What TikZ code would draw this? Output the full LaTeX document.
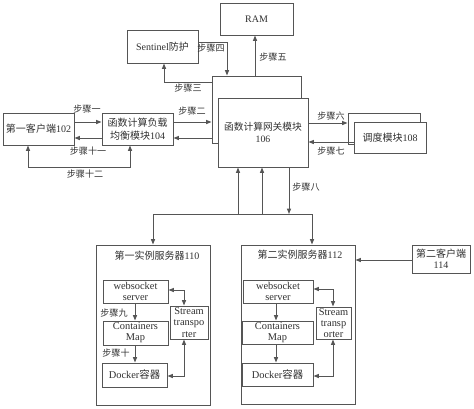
\documentclass[tikz,border=0pt]{standalone}
\usepackage{fontspec}
\setmainfont{Liberation Serif}
\newfontfamily\cjk{Noto Sans CJK SC}
\usetikzlibrary{arrows.meta}
\definecolor{linec}{HTML}{555555}
\definecolor{textc}{HTML}{303030}
\newcommand\z[1]{{\cjk #1}}
\newcommand\bx[7][]{\node[box,#1,minimum width={(#5-#3)*0.75pt},minimum height={(#6-#4)*0.75pt}] (#2) at ({(#3+#5)/2},{(#4+#6)/2}) {#7};}
\tikzset{
  box/.style={draw=linec, line width=0.75pt, inner sep=0pt, align=center, text=textc, font=\fontsize{7.5}{9}\selectfont},
  lat/.style={font=\fontsize{7.8}{8.4}\selectfont},
  arr/.style={draw=linec, line width=0.75pt, -{Triangle[length=4pt,width=3pt]}},
  dbl/.style={draw=linec, line width=0.75pt, {Triangle[length=4pt,width=3pt]}-{Triangle[length=4pt,width=3pt]}},
  lab/.style={font=\cjk\fontsize{6.8}{8}\selectfont, text=textc, inner sep=0pt},
}
\begin{document}
\begin{tikzpicture}[x=0.75pt,y=-0.75pt]
\useasboundingbox (0,0) rectangle (474,408);
% top boxes
\bx{ram}{220}{3}{293}{35}{RAM}
\bx{sent}{127}{30}{198}{63}{Sentinel\z{防护}}
\bx{gwback}{212}{76}{301}{143}{}
\bx[fill=white,font=\fontsize{7.3}{8.6}\selectfont]{gw}{218}{98}{308}{167}{\z{函数计算网关模块}\\106}
\bx{schback}{348}{113}{420}{144}{}
\bx[fill=white]{sch}{354}{122}{426}{153}{\z{调度模块}108}
\bx{cA}{3}{113}{74}{145}{\z{第一客户端}102}
\bx[font=\fontsize{7.5}{9.3}\selectfont]{lb}{102}{113}{173}{145}{\z{函数计算负载}\\\z{均衡模块}104}
\bx[font=\fontsize{7.5}{8.6}\selectfont]{cB}{412}{245}{470}{273}{\z{第二客户端}\\114}
% servers
\bx{sA}{96}{245}{210}{405}{}
\node[box,draw=none] (sAt) at (157,256) {\z{第一实例服务器}110};
\bx[lat]{wsA}{103}{280}{168}{303}{websocket\\server}
\bx[lat]{stA}{170}{306}{208}{339}{Stream\\transpo\\rter}
\bx[lat]{cmA}{103}{321}{168}{345}{Containers\\Map}
\bx[lat]{dkA}{102}{363}{167}{387}{Docker\z{容器}}
\bx{sB}{241}{245}{355}{404}{}
\node[box,draw=none] (sBt) at (300,255) {\z{第二实例服务器}112};
\bx[lat]{wsB}{243}{280}{313}{303}{websocket\\server}
\bx[lat]{stB}{316}{307}{351}{339}{Stream\\transp\\orter}
\bx[lat]{cmB}{242}{321}{313}{344}{Containers\\Map}
\bx[lat]{dkB}{242}{363}{313}{386}{Docker\z{容器}}
% connectors top
\draw[arr] (sent.east |- 0,42) -| (227,0 |- gwback.north);
\node[lab] (l4) at (211,48) {步骤四};
\draw[arr] (gwback.west |- 0,82) -| (164,0 |- sent.south);
\node[lab] (l3) at (188,88) {步骤三};
\draw[arr] (255,0 |- gwback.north) -- (255,0 |- ram.south);
\node[lab] (l5) at (273,57) {步骤五};
% left
\draw[arr] (cA.east |- 0,122) -- (lb.west |- 0,122);
\node[lab] (l1) at (87,109) {步骤一};
\draw[arr] (lb.west |- 0,138) -- (cA.east |- 0,138);
\node[lab] (l11) at (88,151) {步骤十一};
\coordinate (c12a) at (28,167);
\coordinate (c12b) at (130,167);
\draw[dbl] (28,0 |- cA.south) -- (c12a) -- (c12b) -- (130,0 |- lb.south);
\node[lab] (l12) at (85,174) {步骤十二};
\draw[arr] (lb.east |- 0,122) -- (gwback.west |- 0,122);
\node[lab] (l2) at (192,111) {步骤二};
\draw[arr] (gwback.west |- 0,138) -- (lb.east |- 0,138);
% right
\draw[arr] (gw.east |- 0,123) -- (schback.west |- 0,123);
\node[lab] (l6) at (331,116) {步骤六};
\draw[arr] (sch.west |- 0,142) -- (gw.east |- 0,142);
\node[lab] (l7) at (331,151) {步骤七};
% bus
\coordinate (busL) at (153,214);
\coordinate (busR) at (312,214);
\draw[arr] (289,0 |- gw.south) -- (289,214);
\node[lab] (l8) at (306,187) {步骤八};
\draw[arr] (busR) -- (busL) -- (153,0 |- sA.north);
\draw[arr] (busR) -- (312,0 |- sB.north);
\draw[arr] (238,214) -- (238,0 |- gw.south);
\draw[arr] (262,214) -- (262,0 |- gw.south);
\draw[arr] (cB.west |- 0,260) -- (sB.east |- 0,260);
% server A internal
\draw[arr] (135,0 |- wsA.south) -- (135,0 |- cmA.north);
\node[lab] (l9) at (114,313) {步骤九};
\draw[arr] (135,0 |- cmA.south) -- (135,0 |- dkA.north);
\node[lab] (l10) at (116,353) {步骤十};
\draw[dbl] (wsA.east |- 0,290) -| (184,0 |- stA.north);
\draw[dbl] (184,0 |- stA.south) |- (dkA.east |- 0,376);
% server B internal
\draw[arr] (276,0 |- wsB.south) -- (276,0 |- cmB.north);
\draw[arr] (276,0 |- cmB.south) -- (276,0 |- dkB.north);
\draw[dbl] (wsB.east |- 0,289) -| (333,0 |- stB.north);
\draw[dbl] (333,0 |- stB.south) |- (dkB.east |- 0,376);
\end{tikzpicture}
\end{document}
